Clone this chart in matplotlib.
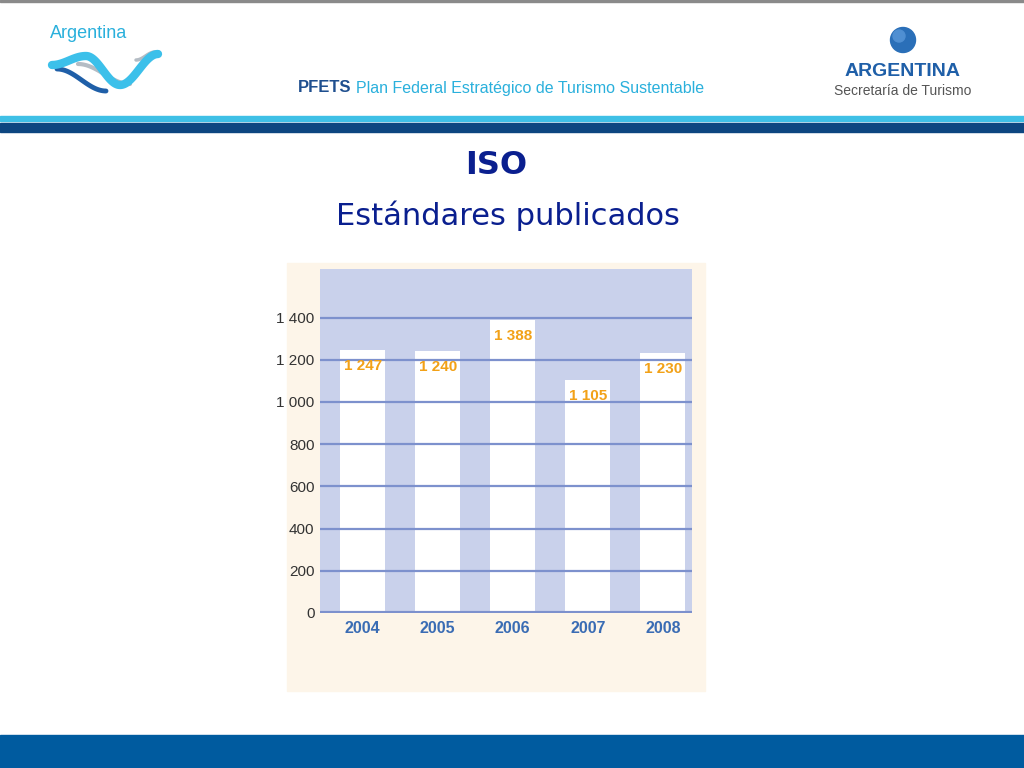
import numpy as np
import matplotlib.pyplot as plt
from matplotlib.patches import Rectangle, Circle

# datos del grafico
anios = ["2004", "2005", "2006", "2007", "2008"]
estandares = [1247, 1240, 1388, 1105, 1230]
ticks_y = [0, 200, 400, 600, 800, 1000, 1200, 1400]
etiquetas_y = ["0", "200", "400", "600", "800", "1 000", "1 200", "1 400"]

W, H = 1024, 768
fig = plt.figure(figsize=(W / 100, H / 100), dpi=100)
fig.patch.set_facecolor("white")

# capa de fondo en pixeles
bg = fig.add_axes([0, 0, 1, 1])
bg.set_xlim(0, W)
bg.set_ylim(H, 0)
bg.axis("off")

narrow = ["Liberation Sans", "DejaVu Sans"]


def curva(px, py, n=30):
    # curva suave entre puntos (interpolacion coseno)
    xs, ys = [], []
    for i in range(len(px) - 1):
        s = np.linspace(0, 1, n)
        w = (1 - np.cos(s * np.pi)) / 2
        xs.append(px[i] + (px[i + 1] - px[i]) * s)
        ys.append(py[i] + (py[i + 1] - py[i]) * w)
    return np.concatenate(xs), np.concatenate(ys)


# encabezado
bg.add_patch(Rectangle((0, 0), W, 2, color="#8a8a8a"))
bg.text(50, 33, "Argentina", color="#2ab0dc", fontsize=13, va="center", ha="left",
        family=narrow)
# logo (ondas)
cx, cy = curva([57, 106], [69, 91])
bg.plot(cx, cy, color="#1f5fa8", lw=3.5, solid_capstyle="round")
cx, cy = curva([78, 130], [64, 84])
bg.plot(cx, cy, color="#b4bcc4", lw=3, solid_capstyle="round")
cx, cy = curva([136, 155], [60, 52])
bg.plot(cx, cy, color="#b4bcc4", lw=2.5, solid_capstyle="round")
cx, cy = curva([52, 86, 120, 158], [65, 56, 85, 54])
bg.plot(cx, cy, color="#3cc0ea", lw=6, solid_capstyle="round")

bg.text(298, 88, "PFETS", color="#1f4f8f", fontsize=12, va="center", ha="left",
        family=narrow, fontweight="bold")
bg.text(356, 88, "Plan Federal Estratégico de Turismo Sustentable", color="#2ab0dc",
        fontsize=11.5, va="center", ha="left", family=narrow)

bg.add_patch(Circle((903, 40), 12.5, color="#2a6fb8"))
bg.add_patch(Circle((899, 36), 6, color="#4f8fd2"))
bg.text(903, 72, "ARGENTINA", color="#1f5fa8", fontsize=14, fontweight="bold",
        ha="center", va="center", family=narrow)
bg.text(903, 91, "Secretaría de Turismo", color="#555555", fontsize=10,
        ha="center", va="center", family=narrow)

bg.add_patch(Rectangle((0, 116), W, 5, color="#3fc0e6"))
bg.add_patch(Rectangle((0, 123), W, 9, color="#0d4680"))
bg.add_patch(Rectangle((0, 735), W, 33, color="#005b9f"))

# titulo
bg.text(496, 165, "ISO", color="#0a1f8f", fontsize=23, fontweight="bold",
        ha="center", va="center")
bg.text(508, 216, "Estándares publicados", color="#0a1f8f", fontsize=22,
        ha="center", va="center")

# panel crema
bg.add_patch(Rectangle((287, 263), 418, 428, color="#fdf5e9"))

# grafico de barras
ax = fig.add_axes([320 / W, 1 - 613 / H, (692 - 320) / W, (613 - 269) / H])
ax.set_facecolor("#c9d1eb")
x = np.arange(len(anios))
ax.bar(x, estandares, width=0.6, color="white", zorder=2)
ax.set_xlim(-0.567, 4.387)
ax.set_ylim(0, 1630)
for yv in ticks_y[1:]:
    ax.axhline(yv, color="#7d91cd", lw=1.6, zorder=3)
ax.axhline(0, color="#7d91cd", lw=3, zorder=3)

for xi, v in zip(x, estandares):
    s = f"{v:,}".replace(",", " ")
    ax.annotate(s, (xi, v), xytext=(0, -16), textcoords="offset pixels",
                ha="center", va="center", color="#f2a117", fontsize=11,
                fontweight="bold", family=narrow, zorder=4)

for sp in ax.spines.values():
    sp.set_visible(False)
ax.set_yticks(ticks_y)
ax.set_yticklabels(etiquetas_y, family=narrow, fontsize=11, color="#333333")
ax.set_xticks(x)
ax.set_xticklabels(anios, family=narrow, fontsize=11.5, color="#3a6cb4",
                   fontweight="bold")
ax.tick_params(length=0)
ax.tick_params(axis="y", pad=4)
ax.tick_params(axis="x", pad=6)

fig.savefig("out.png", dpi=100)
